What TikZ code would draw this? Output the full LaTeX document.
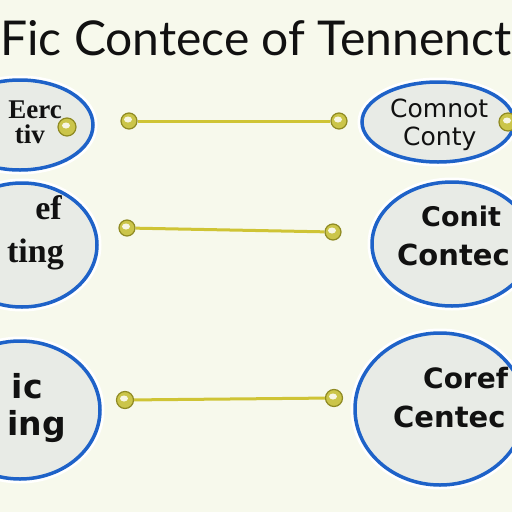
\documentclass[tikz,border=0pt]{standalone}
\usepackage{fontspec}
\setmainfont{Lato}
\newfontfamily\serifb{Liberation Serif}
\newfontfamily\lblfont{DejaVu Sans}
\definecolor{bgc}{HTML}{F7F9EC}
\definecolor{ringblue}{HTML}{1E62C8}
\definecolor{ellfill}{HTML}{E8EBE6}
\definecolor{beadc}{HTML}{CBC54A}
\definecolor{beadd}{HTML}{8F8A22}
\definecolor{wirec}{HTML}{CFC435}
\definecolor{inkc}{HTML}{111111}
\tikzset{
  bubble/.style={ellipse, fill=ellfill, draw=ringblue, line width=3.5pt,
    inner sep=0pt, preaction={draw=white, line width=9pt}},
  bead/.style={circle, minimum size=16pt, inner sep=0pt, fill=beadc, draw=beadd, line width=1.2pt,
    path picture={\fill[white!85!beadc] ([xshift=-1pt,yshift=1.5pt]path picture bounding box.center) ellipse (4pt and 3pt);}},
  wire/.style={draw=wirec, line width=3pt},
  lbl/.style={inner sep=0pt, text=inkc},
}
\usetikzlibrary{shapes.geometric}
\begin{document}
\begin{tikzpicture}[x=1pt,y=-1pt]
\useasboundingbox (0,0) rectangle (512,512);
\clip (0,0) rectangle (512,512);
\fill[bgc] (0,0) rectangle (512,512);
% title
\node[inner sep=0pt, anchor=base west, text=inkc, font=\fontsize{48}{48}\selectfont] (title) at (0,55) {Fic Contece of Tennenct};
% ellipses
\node[bubble, minimum width=146pt, minimum height=90pt] (e1) at (20,125) {};
\node[bubble, minimum width=152pt, minimum height=80pt] (e2) at (438,122) {};
\node[bubble, minimum width=150pt, minimum height=124pt] (e3) at (22,245) {};
\node[bubble, minimum width=160pt, minimum height=124pt] (e4) at (452,244) {};
\node[bubble, minimum width=160pt, minimum height=138pt] (e5) at (20,410) {};
\node[bubble, minimum width=170pt, minimum height=152pt] (e6) at (440,409) {};
% labels
\node[lbl, anchor=base east, font=\serifb\bfseries\fontsize{27}{27}\selectfont] (t1a) at (62,118) {Eerc};
\node[lbl, anchor=base east, font=\serifb\bfseries\fontsize{27}{27}\selectfont] (t1b) at (45,143) {tiv};
\node[lbl, anchor=base west, font=\lblfont\fontsize{25}{25}\selectfont] (t2a) at (390,117) {Comnot};
\node[lbl, anchor=base west, font=\lblfont\fontsize{25}{25}\selectfont] (t2b) at (403,145) {Conty};
\node[lbl, anchor=base east, font=\serifb\bfseries\fontsize{34}{34}\selectfont] (t3a) at (62,219) {ef};
\node[lbl, anchor=base east, font=\serifb\bfseries\fontsize{34}{34}\selectfont] (t3b) at (64,262) {ting};
\node[lbl, anchor=base west, font=\lblfont\bfseries\fontsize{27}{27}\selectfont] (t4a) at (421,226) {Conit};
\node[lbl, anchor=base west, font=\lblfont\bfseries\fontsize{29}{29}\selectfont] (t4b) at (397,265) {Contec};
\node[lbl, anchor=base east, font=\lblfont\bfseries\fontsize{33}{33}\selectfont] (t5a) at (43,398) {ic};
\node[lbl, anchor=base east, font=\lblfont\bfseries\fontsize{33}{33}\selectfont] (t5b) at (66,435) {ing};
\node[lbl, anchor=base west, font=\lblfont\bfseries\fontsize{28}{28}\selectfont] (t6a) at (423,388) {Coref};
\node[lbl, anchor=base west, font=\lblfont\bfseries\fontsize{29}{29}\selectfont] (t6b) at (393,427) {Centec};
% beads on ellipses
\node[bead, minimum size=18pt] (b1) at (67,127) {};
\node[bead, minimum size=18pt] (b2) at (508,122) {};
% connectors
\node[bead] (c1l) at (129,121) {};
\node[bead] (c1r) at (339,121) {};
\node[bead] (c2l) at (127,228) {};
\node[bead] (c2r) at (333,232) {};
\node[bead, minimum size=17pt] (c3l) at (125,400) {};
\node[bead, minimum size=17pt] (c3r) at (334,398) {};
\draw[wire] (c1l) -- (c1r);
\draw[wire] (c2l) -- (c2r);
\draw[wire] (c3l) -- (c3r);
\end{tikzpicture}
\end{document}
